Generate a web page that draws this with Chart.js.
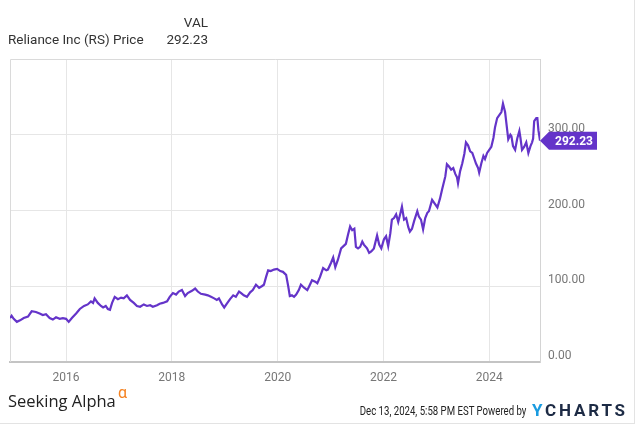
<!DOCTYPE html>
<html>
<head>
<meta charset="utf-8">
<script src="https://cdn.jsdelivr.net/npm/chart.js@4.4.1/dist/chart.umd.min.js"></script>
<style>
  html, body { margin: 0; padding: 0; background: #fff; }
  #wrap { position: relative; width: 635px; height: 424px; overflow: hidden; font-family: Roboto, sans-serif; box-sizing: border-box; border-right: 1px solid #e3e3e3; border-bottom: 1px solid #e3e3e3; }
  #wrap canvas { position: absolute; left: 0; top: 0; }
  .t { position: absolute; white-space: nowrap; line-height: 1; }
</style>
</head>
<body>
<div id="wrap">
  <canvas id="PriceChart" width="635" height="424"></canvas>
  <div class="t" style="right:426px; top:16px; font-size:13.5px; color:#333;">VAL</div>
  <div class="t" style="left:8px; top:33px; font-size:13.5px; color:#333;">Reliance Inc (RS) Price</div>
  <div class="t" style="right:426px; top:33px; font-size:13.5px; color:#333;">292.23</div>
  <div class="t" style="left:8px; top:393px; font-family:'Open Sans', sans-serif; font-size:16.5px; color:#222;">Seeking Alpha</div>
  <div class="t" style="left:118px; top:385px; font-size:16px; color:#f58220;">α</div>
  <div class="t" style="right:108px; top:405px; font-size:12.5px; color:#222; transform:scaleX(0.77); transform-origin:right center;">Dec 13, 2024, 5:58 PM EST Powered by</div>
  <div class="t" style="left:532px; top:402px; font-size:17px; font-weight:bold; letter-spacing:2.8px; color:#1d2b45;"><span style="color:#1a9be0;">Y</span>CHARTS</div>
</div>
<script>
// Reliance Inc (RS) weekly-ish price (x = decimal year)
var dates = [
  2014.94, 2014.97, 2015.01, 2015.07, 2015.13, 2015.20, 2015.28, 2015.35, 2015.43, 2015.50,
  2015.56, 2015.62, 2015.69, 2015.75, 2015.81, 2015.88, 2015.94, 2016.00, 2016.05, 2016.11,
  2016.19, 2016.26, 2016.34, 2016.41, 2016.47, 2016.51, 2016.54, 2016.60, 2016.66, 2016.70,
  2016.75, 2016.79, 2016.83, 2016.87, 2016.92, 2016.98, 2017.04, 2017.09, 2017.15, 2017.21,
  2017.28, 2017.34, 2017.40, 2017.47, 2017.53, 2017.59, 2017.64, 2017.72, 2017.77, 2017.83,
  2017.91, 2017.96, 2018.02, 2018.08, 2018.13, 2018.19, 2018.25, 2018.30, 2018.38, 2018.44,
  2018.49, 2018.55, 2018.63, 2018.68, 2018.74, 2018.80, 2018.85, 2018.89, 2018.95, 2018.99,
  2019.04, 2019.10, 2019.16, 2019.21, 2019.27, 2019.31, 2019.36, 2019.42, 2019.48, 2019.53,
  2019.59, 2019.65, 2019.70, 2019.74, 2019.78, 2019.82, 2019.87, 2019.93, 2019.99, 2020.05,
  2020.10, 2020.16, 2020.20, 2020.23, 2020.27, 2020.31, 2020.35, 2020.40, 2020.44, 2020.50,
  2020.56, 2020.59, 2020.65, 2020.71, 2020.75, 2020.80, 2020.86, 2020.92, 2020.95, 2021.01,
  2021.05, 2021.09, 2021.14, 2021.20, 2021.26, 2021.29, 2021.33, 2021.37, 2021.41, 2021.45,
  2021.48, 2021.52, 2021.56, 2021.60, 2021.63, 2021.69, 2021.73, 2021.77, 2021.82, 2021.88,
  2021.92, 2021.96, 2022.01, 2022.05, 2022.09, 2022.13, 2022.16, 2022.20, 2022.24, 2022.28,
  2022.32, 2022.35, 2022.39, 2022.43, 2022.47, 2022.50, 2022.54, 2022.58, 2022.64, 2022.67,
  2022.71, 2022.75, 2022.79, 2022.83, 2022.86, 2022.92, 2022.96, 2023.02, 2023.07, 2023.11,
  2023.17, 2023.20, 2023.24, 2023.28, 2023.32, 2023.36, 2023.39, 2023.41, 2023.45, 2023.49,
  2023.53, 2023.56, 2023.60, 2023.64, 2023.68, 2023.72, 2023.75, 2023.79, 2023.81, 2023.85,
  2023.89, 2023.92, 2023.96, 2024.00, 2024.04, 2024.08, 2024.11, 2024.15, 2024.19, 2024.23,
  2024.26, 2024.30, 2024.32, 2024.36, 2024.40, 2024.42, 2024.45, 2024.49, 2024.53, 2024.57,
  2024.59, 2024.62, 2024.66, 2024.70, 2024.74, 2024.78, 2024.81, 2024.83, 2024.85, 2024.89,
  2024.91, 2024.93, 2024.96
];
var prices = [
  58, 61, 57, 53, 55, 58, 60, 67, 66, 64,
  62, 63, 58, 56, 59, 57, 58, 57, 53, 58,
  64, 70, 74, 76, 80, 78, 84, 78, 74, 72,
  74, 70, 69, 78, 86, 83, 85, 84, 88, 82,
  78, 74, 73, 76, 74, 75, 73, 75, 77, 78,
  80, 86, 91, 89, 93, 95, 87, 91, 94, 97,
  93, 90, 89, 88, 86, 84, 82, 84, 76, 72,
  77, 83, 88, 86, 93, 91, 88, 86, 92, 95,
  102, 98, 100, 102, 112, 121, 120, 122, 123, 120,
  119, 115, 100, 87, 88, 86, 89, 95, 102, 98,
  95, 99, 108, 106, 104, 112, 124, 121, 122, 131,
  138, 125, 135, 150, 154, 156, 168, 179, 174, 176,
  152, 150, 152, 159, 155, 150, 144, 146, 150, 167,
  155, 150, 162, 166, 153, 170, 188, 190, 195, 185,
  196, 205, 188, 190, 178, 172, 176, 186, 199, 192,
  188, 175, 190, 197, 199, 214, 210, 204, 216, 228,
  245, 261, 258, 254, 256, 248, 244, 236, 252, 262,
  275, 290, 286, 278, 276, 268, 262, 256, 250, 262,
  272, 268, 276, 280, 284, 296, 310, 322, 326, 330,
  341, 330, 318, 294, 300, 298, 285, 280, 295, 305,
  296, 280, 284, 290, 276, 285, 290, 295, 318, 322,
  322, 306, 292.23
];
var xTicks = [2016, 2018, 2020, 2022, 2024];
var yTicks = [0, 100, 200, 300];

var lineColor = '#6434c9';

// top and left edges of the plot frame
var framePlugin = {
    id: 'frame',
    beforeDatasetsDraw: function(chart) {
        var a = chart.chartArea, c = chart.ctx;
        c.save();
        c.strokeStyle = '#dadada';
        c.lineWidth = 1;
        c.beginPath();
        c.moveTo(a.left + 0.5, a.bottom);
        c.lineTo(a.left + 0.5, a.top + 0.5);
        c.lineTo(a.right, a.top + 0.5);
        c.stroke();
        c.restore();
    }
};

// last value flag on the right axis
var endLabelPlugin = {
    id: 'endLabel',
    afterDatasetsDraw: function(chart) {
        var a = chart.chartArea, c = chart.ctx;
        var last = prices[prices.length - 1];
        var y = chart.scales.y.getPixelForValue(last);
        var x0 = a.right, x1 = a.right + 9, x2 = 597;
        c.save();
        c.fillStyle = lineColor;
        c.beginPath();
        c.moveTo(x0, y);
        c.lineTo(x1, y - 9);
        c.lineTo(x2, y - 9);
        c.lineTo(x2, y + 9);
        c.lineTo(x1, y + 9);
        c.closePath();
        c.fill();
        c.fillStyle = '#fff';
        c.font = 'bold 12px Roboto';
        c.textAlign = 'center';
        c.textBaseline = 'middle';
        c.fillText(last.toFixed(2), (x1 + x2) / 2 + 1, y + 1);
        c.restore();
    }
};

var ctx = document.getElementById('PriceChart').getContext('2d');
var priceChart = new Chart(ctx, {
    type: 'line',
    data: {
        datasets: [{
            label: 'Reliance Inc (RS) Price',
            data: dates.map(function(d, i) { return { x: d, y: prices[i] }; }),
            borderColor: lineColor,
            borderWidth: 2.2,
            pointRadius: 0,
            tension: 0
        }]
    },
    options: {
        responsive: false,
        animation: false,
        layout: { padding: { left: 10, top: 59, right: 0, bottom: 0 } },
        plugins: { legend: { display: false }, tooltip: { enabled: false } },
        scales: {
            x: {
                type: 'linear',
                min: 2014.94,
                max: 2024.96,
                afterBuildTicks: function(s) { s.ticks = xTicks.map(function(v) { return { value: v }; }); },
                afterFit: function(s) { s.height = 62; },
                grid: { color: '#e6e6e6', drawTicks: false },
                border: { color: '#c4c4c4', width: 2 },
                ticks: {
                    padding: 9,
                    color: '#777',
                    font: { family: 'Roboto', size: 12 },
                    callback: function(v) { return String(v); }
                }
            },
            y: {
                position: 'right',
                min: 0,
                max: 400,
                afterBuildTicks: function(s) { s.ticks = yTicks.map(function(v) { return { value: v }; }); },
                afterFit: function(s) { s.width = 95; },
                grid: { color: '#e6e6e6', drawTicks: false },
                border: { color: '#d4d4d4' },
                ticks: {
                    padding: 8,
                    labelOffset: -6,
                    color: '#777',
                    font: { family: 'Roboto', size: 12 },
                    callback: function(v) { return v.toFixed(2); }
                }
            }
        }
    },
    plugins: [framePlugin, endLabelPlugin]
});
</script>
</body>
</html>
